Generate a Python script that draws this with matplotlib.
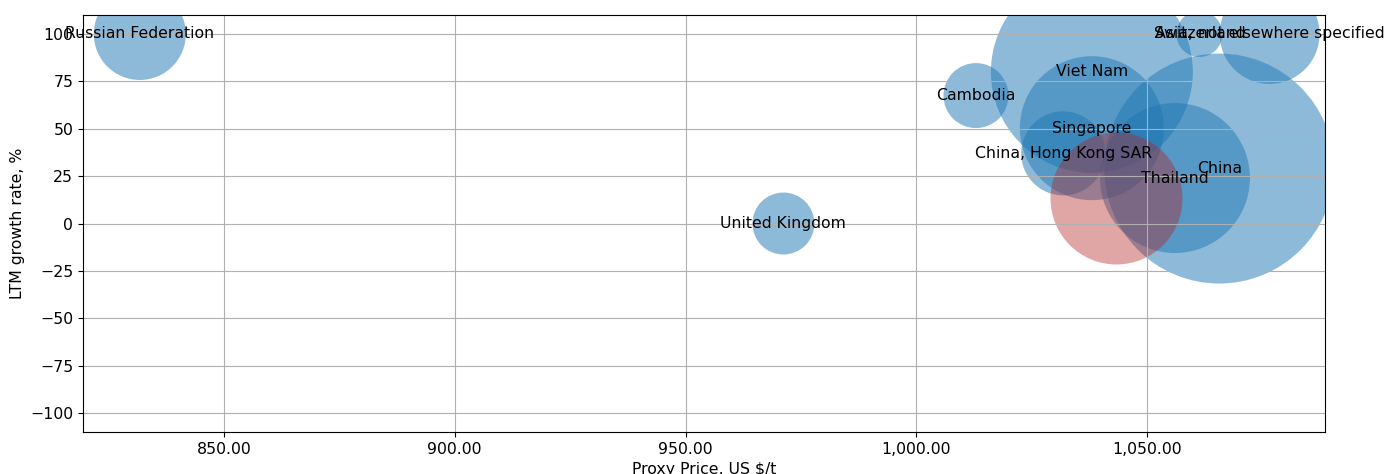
import matplotlib
matplotlib.use("Agg")
import matplotlib.pyplot as plt
from matplotlib.ticker import FuncFormatter

# countries, proxy price (US $/t), LTM growth (%), bubble volume
countries = ["Russian Federation", "United Kingdom", "Cambodia", "Viet Nam",
             "Singapore", "China, Hong Kong SAR", "China", "Thailand",
             "Switzerland", "Asia, not elsewhere specified"]
price = [831.8, 971.2, 1012.9, 1038.0, 1038.0, 1031.8, 1065.6, 1056.0,
         1061.3, 1076.5]
growth = [100.0, 0.0, 67.5, 80.0, 50.3, 37.0, 29.0, 24.0, 100.0, 100.0]
volume = [4.39, 1.99, 2.19, 21.15, 10.75, 3.66, 27.42, 11.66, 1.10, 5.18]

# highlighted market (no label)
hl_price = [1043.3]
hl_growth = [13.5]
hl_volume = [9.03]

plt.rcParams["font.size"] = 11.3

fig = plt.figure(figsize=(13.86, 4.74), dpi=100)
ax = fig.add_axes([0.0599, 0.0886, 0.8961, 0.8797])

ax.scatter(price, growth, s=[v * 1000 for v in volume], color="tab:blue",
           alpha=0.5, linewidths=0)
for name, x, y in zip(countries, price, growth):
    ax.text(x, y, name, ha="center", va="center")

ax.scatter(hl_price, hl_growth, s=[v * 1000 for v in hl_volume],
           color="firebrick", alpha=0.4, linewidths=0)

ax.set_xlim(819.5, 1088.5)
ax.set_ylim(-110, 110)
ax.set_yticks(range(-100, 101, 25))
ax.xaxis.set_major_formatter(FuncFormatter(lambda v, p: f"{v:,.2f}"))
ax.grid(True, color="#b0b0b0")
ax.set_xlabel("Proxy Price, US $/t", labelpad=4)
ax.set_ylabel("LTM growth rate, %")

fig.savefig("out.png", dpi=100)
